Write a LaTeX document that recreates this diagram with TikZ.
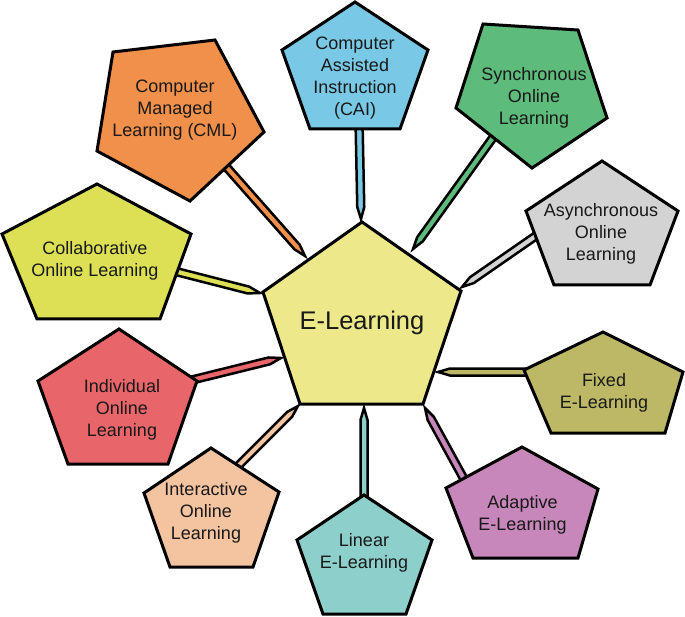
\documentclass[tikz,border=0pt]{standalone}
\usepackage{fontspec}
\setmainfont{Liberation Sans}
\usetikzlibrary{calc}
\definecolor{cMain}{HTML}{EDE98A}
\definecolor{cCML}{HTML}{F0904A}
\definecolor{cCAI}{HTML}{79C9E6}
\definecolor{cSync}{HTML}{5DBB7B}
\definecolor{cAsync}{HTML}{D3D3D3}
\definecolor{cCollab}{HTML}{DDE055}
\definecolor{cIndiv}{HTML}{E8666A}
\definecolor{cInter}{HTML}{F4C3A0}
\definecolor{cLinear}{HTML}{8CCFCB}
\definecolor{cAdapt}{HTML}{C887BA}
\definecolor{cFixed}{HTML}{BDB865}
\tikzset{
  pent/.style={draw=black, line width=3pt, line join=miter},
  lbl/.style={align=center, text=black!90, inner sep=0pt, font=\fontsize{18}{22}\selectfont},
  mainlbl/.style={align=center, text=black!90, inner sep=0pt, font=\fontsize{25.5}{30}\selectfont},
  pencilshape/.style={draw=black, line width=2.5pt, line join=miter}
}
\newcommand\drawpencil[3]{%
  \coordinate (pb) at ($(#2)!12pt!(#1)$);
  \draw[pencilshape, fill=#3] ($(#1)!3.5pt!90:(#2)$) -- ($(pb)!3.5pt!-90:(#1)$) -- (#2)
     -- ($(pb)!3.5pt!90:(#1)$) -- ($(#1)!3.5pt!-90:(#2)$) -- cycle;
}
\begin{document}
\begin{tikzpicture}[x=1pt, y=-1pt]
\useasboundingbox (0,0) rectangle (685,617);
% central pentagon
\draw[pent, fill=cMain] (362,222) -- (461,291) -- (423,404) -- (300,404) -- (263,292) -- cycle;
\node[mainlbl] (main) at (362,323) {E-Learning};
% pencil end points
\coordinate (cmlS) at (222,162);   \coordinate (cmlT) at (305,256);
\coordinate (caiS) at (359,120);   \coordinate (caiT) at (361,219);
\coordinate (syncS) at (497,132);  \coordinate (syncT) at (413,249);
\coordinate (asyncS) at (540,233); \coordinate (asyncT) at (462,287);
\coordinate (collabS) at (170,270);\coordinate (collabT) at (260,293);
\coordinate (fixedS) at (532,372); \coordinate (fixedT) at (438,372);
\coordinate (indivS) at (192,380); \coordinate (indivT) at (281,358);
\coordinate (interS) at (234,470); \coordinate (interT) at (298,406);
\coordinate (linS) at (364,505);   \coordinate (linT) at (364,408);
\coordinate (adaptS) at (470,490); \coordinate (adaptT) at (425,408);
\drawpencil{cmlS}{cmlT}{cCML}
\drawpencil{caiS}{caiT}{cCAI}
\drawpencil{syncS}{syncT}{cSync}
\drawpencil{asyncS}{asyncT}{cAsync}
\drawpencil{collabS}{collabT}{cCollab}
\drawpencil{fixedS}{fixedT}{cFixed}
\drawpencil{indivS}{indivT}{cIndiv}
\drawpencil{interS}{interT}{cInter}
\drawpencil{linS}{linT}{cLinear}
\drawpencil{adaptS}{adaptT}{cAdapt}
% satellites
\draw[pent, fill=cCAI] (355,2) -- (428,50) -- (400,129) -- (310,129) -- (282,50) -- cycle;
\node[lbl] (cai) at (355,78) {Computer\\Assisted\\Instruction\\(CAI)};
\draw[pent, fill=cCML] (113,52) -- (215,40) -- (264,132) -- (190,201) -- (97,151) -- cycle;
\node[lbl] (cml) at (175,110) {Computer\\Managed\\Learning (CML)};
\draw[pent, fill=cSync] (483,24) -- (578,30) -- (607,118) -- (532,168) -- (456,108) -- cycle;
\node[lbl] (sync) at (534,97.5) {Synchronous\\Online\\Learning};
\draw[pent, fill=cAsync] (602,161) -- (678,211) -- (650,285) -- (554,285) -- (526,211) -- cycle;
\node[lbl] (async) at (601,233.5) {Asynchronous\\Online\\Learning};
\draw[pent, fill=cCollab] (97,184) -- (191,234) -- (160,319) -- (37,319) -- (2,234) -- cycle;
\node[lbl] (collab) at (95,261) {Collaborative\\Online Learning};
\draw[pent, fill=cIndiv] (119,329) -- (197,381) -- (168,464) -- (68,464) -- (38,381) -- cycle;
\node[lbl] (indiv) at (122,409.5) {Individual\\Online\\Learning};
\draw[pent, fill=cInter] (211,448) -- (279,492) -- (253,567) -- (170,567) -- (144,493) -- cycle;
\node[lbl] (inter) at (206,513) {Interactive\\Online\\Learning};
\draw[pent, fill=cLinear] (364,495) -- (432,540) -- (406,614) -- (323,614) -- (297,540) -- cycle;
\node[lbl] (linear) at (364,553) {Linear\\E-Learning};
\draw[pent, fill=cAdapt] (522,447) -- (598,489) -- (578,558) -- (473,558) -- (446,488) -- cycle;
\node[lbl] (adapt) at (522.5,515) {Adaptive\\E-Learning};
\draw[pent, fill=cFixed] (603,332) -- (683,372) -- (665,433) -- (551,433) -- (524,370) -- cycle;
\node[lbl] (fixed) at (604,392.5) {Fixed\\E-Learning};
\end{tikzpicture}
\end{document}
